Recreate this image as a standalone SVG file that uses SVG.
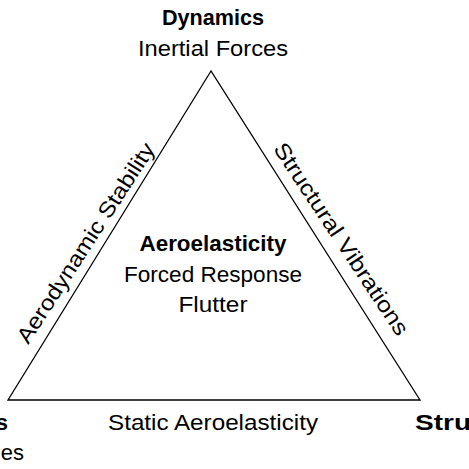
<svg xmlns="http://www.w3.org/2000/svg" width="469" height="469" viewBox="0 0 469 469">
<style>
text{font-family:"Liberation Sans",Arial,sans-serif;font-size:22px;fill:#000;text-anchor:middle}
.b{font-weight:bold}
.e{text-anchor:end}
.s{text-anchor:start}
.edge{fill:none;stroke:#000;stroke-width:1.3}
</style>
<rect width="469" height="469" fill="#fff"/>
<g id="connectors">
<polygon class="edge" points="211,71 8,400 420,400"/>
</g>
<g id="dynamics">
<text class="b" x="213" y="25" textLength="102" lengthAdjust="spacingAndGlyphs">Dynamics</text>
<text x="213" y="56" textLength="150" lengthAdjust="spacingAndGlyphs">Inertial Forces</text>
</g>
<g id="aeroelasticity">
<text class="b" x="213" y="251" textLength="147" lengthAdjust="spacingAndGlyphs">Aeroelasticity</text>
<text x="213" y="282" textLength="178" lengthAdjust="spacingAndGlyphs">Forced Response</text>
<text x="213" y="312" textLength="69" lengthAdjust="spacingAndGlyphs">Flutter</text>
</g>
<g id="aerodynamics">
<text class="b e" x="8" y="430">s</text>
<text class="e" x="24" y="460">es</text>
</g>
<g id="structures">
<text class="b s" x="415" y="430" textLength="56" lengthAdjust="spacingAndGlyphs">Stru</text>
</g>
<g id="edge-labels">
<text transform="translate(92,247) rotate(-57)" textLength="234" lengthAdjust="spacingAndGlyphs">Aerodynamic Stability</text>
<text transform="translate(335,243) rotate(56.5)" textLength="226" lengthAdjust="spacingAndGlyphs">Structural Vibrations</text>
<text x="213" y="430" textLength="210" lengthAdjust="spacingAndGlyphs">Static Aeroelasticity</text>
</g>
</svg>
